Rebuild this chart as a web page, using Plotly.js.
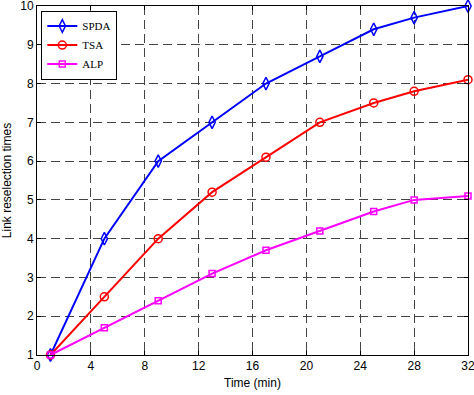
<!DOCTYPE html>
<html><head><meta charset="utf-8">
<script src="https://cdn.plot.ly/plotly-3.0.1.min.js"></script>
<style>html,body{margin:0;padding:0;background:#fff}#c{width:474px;height:395px}</style>
</head><body><div id="c"></div>
<script>
var time = [1, 5, 9, 13, 17, 21, 25, 28, 32];
var spda = [1, 4, 6, 7, 8, 8.7, 9.4, 9.7, 10];
var tsa  = [1, 2.5, 4, 5.2, 6.1, 7, 7.5, 7.8, 8.1];
var alp  = [1, 1.7, 2.4, 3.1, 3.7, 4.2, 4.7, 5, 5.1];
var xTicks = [0, 4, 8, 12, 16, 20, 24, 28, 32];
var yTicks = [1, 2, 3, 4, 5, 6, 7, 8, 9, 10];

function tr(name, y, color, symbol, size) {
  return {x: time, y: y, name: name, type: 'scatter', mode: 'lines+markers', cliponaxis: false,
    line: {color: color, width: 2},
    marker: {symbol: symbol, size: size, color: color, line: {color: color, width: 1.5}}};
}
var data = [
  tr('SPDA', spda, '#0000ff', 'diamond-tall-open', 9),
  tr('TSA', tsa, '#ff0000', 'circle-open', 8),
  tr('ALP', alp, '#ff00ff', 'square-open', 6)
];
var axisCommon = {showline: true, mirror: 'ticks', linecolor: '#000', linewidth: 1,
  ticks: 'inside', ticklen: 4, tickcolor: '#000', showgrid: true, gridcolor: '#444',
  griddash: '9px,5px', gridwidth: 1, zeroline: false, ticklabeloverflow: 'allow',
  tickfont: {family: 'Liberation Sans, Arial', size: 12, color: '#000'}};
var layout = {
  width: 474, height: 395,
  margin: {l: 37, r: 6, t: 6, b: 40},
  paper_bgcolor: '#fff', plot_bgcolor: '#fff',
  showlegend: true,
  legend: {x: 0.01, y: 0.987, xanchor: 'left', yanchor: 'top', bgcolor: '#fff',
    bordercolor: '#000', borderwidth: 1, tracegroupgap: 0, itemwidth: 30,
    font: {family: 'Liberation Serif, Times New Roman', size: 11, color: '#000'}},
  xaxis: Object.assign({}, axisCommon, {range: [0, 32], tickvals: xTicks, ticktext: xTicks.map(String),
    title: {text: 'Time (min)', standoff: 6, font: {family: 'Liberation Sans, Arial', size: 12, color: '#000'}}}),
  yaxis: Object.assign({}, axisCommon, {range: [1, 10], tickvals: yTicks, ticktext: yTicks.map(String),
    title: {text: 'Link reselection times', standoff: 6, font: {family: 'Liberation Sans, Arial', size: 12, color: '#000'}}})
};
Plotly.newPlot('c', data, layout, {displayModeBar: false, staticPlot: true});
</script></body></html>
